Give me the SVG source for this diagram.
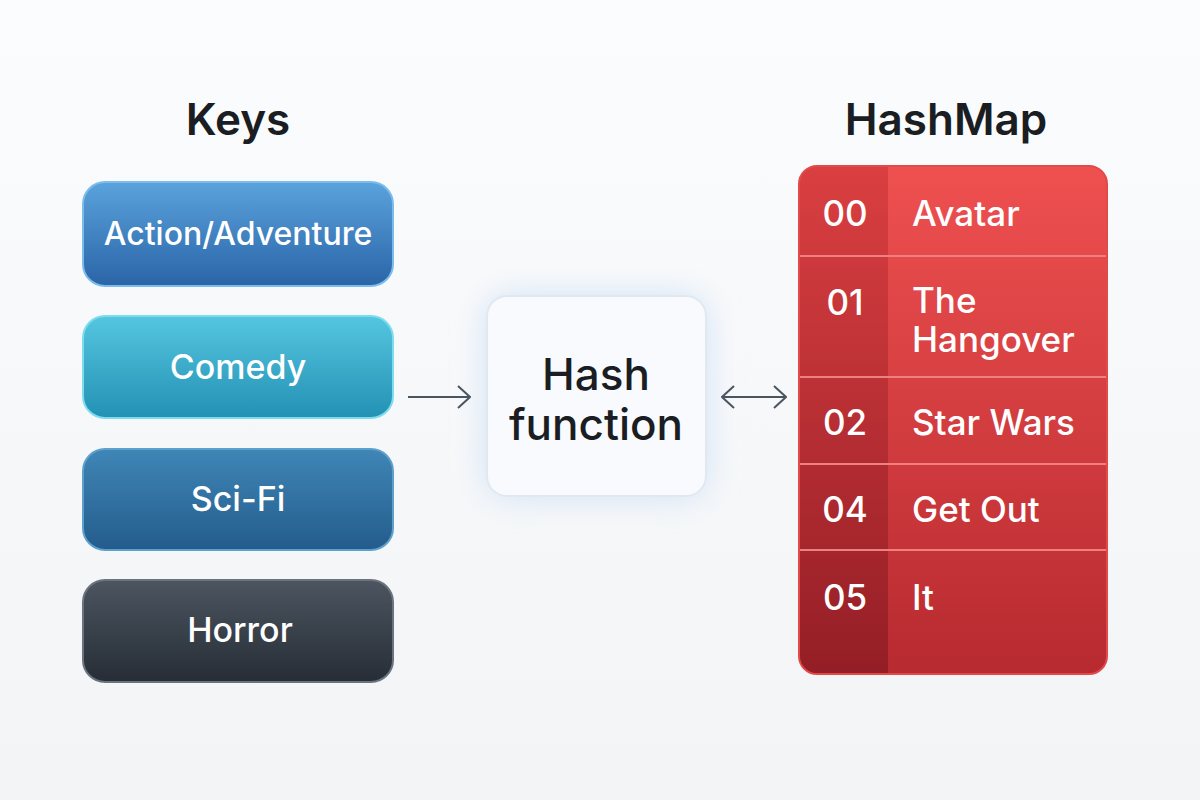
<svg xmlns="http://www.w3.org/2000/svg" width="1200" height="800" viewBox="0 0 1200 800">
<defs>
<linearGradient id="bg" x1="0" y1="0" x2="0" y2="1"><stop offset="0" stop-color="#fbfcfd"/><stop offset="1" stop-color="#f2f4f6"/></linearGradient>
<linearGradient id="g1" x1="0" y1="0" x2="0" y2="1"><stop offset="0" stop-color="#5aa3dc"/><stop offset="1" stop-color="#2a64a8"/></linearGradient>
<linearGradient id="g2" x1="0" y1="0" x2="0" y2="1"><stop offset="0" stop-color="#55c6e0"/><stop offset="1" stop-color="#2391b4"/></linearGradient>
<linearGradient id="g3" x1="0" y1="0" x2="0" y2="1"><stop offset="0" stop-color="#3f86b6"/><stop offset="1" stop-color="#235c8c"/></linearGradient>
<linearGradient id="g4" x1="0" y1="0" x2="0" y2="1"><stop offset="0" stop-color="#4c5560"/><stop offset="1" stop-color="#262d36"/></linearGradient>
<linearGradient id="gr" x1="0" y1="0" x2="0" y2="1"><stop offset="0" stop-color="#ef5050"/><stop offset="1" stop-color="#b72a30"/></linearGradient>
<linearGradient id="gi" x1="0" y1="0" x2="0" y2="1"><stop offset="0" stop-color="#d63c3e"/><stop offset="1" stop-color="#8e1c24"/></linearGradient>
<filter id="glow" x="-50%" y="-50%" width="200%" height="200%"><feGaussianBlur stdDeviation="16"/></filter>
<marker id="ah" viewBox="0 0 14 24" refX="13" refY="12" markerWidth="14" markerHeight="24" markerUnits="userSpaceOnUse" orient="auto-start-reverse"><path d="M1,1 L13,12 L1,23" fill="none" stroke="#4a5560" stroke-width="2"/></marker>
<style>
text{font-family:Inter,"Liberation Sans",sans-serif;}
.title{font-size:44px;font-weight:600;fill:#1a1d22;text-anchor:middle}
.key{font-size:32px;fill:#fff;text-anchor:middle;font-weight:500}
.cell{font-size:35px;fill:#fff;font-weight:500}
.sep{stroke:#f08080;stroke-width:2}
</style>
</defs>
<rect width="1200" height="800" fill="url(#bg)"/>
<text class="title" x="238" y="135">Keys</text>
<text class="title" x="946" y="135">HashMap</text>
<g id="key-action"><rect x="83" y="182" width="310" height="104" rx="22" fill="url(#g1)" stroke="#7bbcec" stroke-width="2"/><text class="key" x="238" y="245" font-size="31">Action/Adventure</text></g>
<g id="key-comedy"><rect x="83" y="316" width="310" height="102" rx="22" fill="url(#g2)" stroke="#7ddcee" stroke-width="2"/><text class="key" x="238" y="379" style="font-size:34px">Comedy</text></g>
<g id="key-scifi"><rect x="83" y="449" width="310" height="101" rx="22" fill="url(#g3)" stroke="#5ea0cc" stroke-width="2"/><text class="key" x="238" y="511" style="font-size:34px">Sci-Fi</text></g>
<g id="key-horror"><rect x="83" y="580" width="310" height="102" rx="22" fill="url(#g4)" stroke="#6a737e" stroke-width="2"/><text class="key" x="240" y="642" style="font-size:34px">Horror</text></g>
<g id="hash">
<rect x="487" y="296" width="219" height="200" rx="22" fill="#cfe0f6" filter="url(#glow)"/>
<rect x="487" y="296" width="219" height="200" rx="20" fill="#f8fafd" stroke="#e2e8f0" stroke-width="2"/>
<text x="596" y="390" font-size="44" font-weight="500" fill="#1a1d22" text-anchor="middle">Hash</text>
<text x="596" y="440" font-size="44" font-weight="500" fill="#1a1d22" text-anchor="middle">function</text>
</g>
<g id="hashmap">
<rect x="799" y="166" width="308" height="508" rx="18" fill="url(#gr)" stroke="#e24a4a" stroke-width="2"/>
<path d="M817,167 H888 V673 H817 A17,17 0 0 1 800,656 V184 A17,17 0 0 1 817,167Z" fill="url(#gi)" opacity="0.85"/>
<line class="sep" x1="800" y1="256" x2="1106" y2="256"/>
<line class="sep" x1="800" y1="377" x2="1106" y2="377"/>
<line class="sep" x1="800" y1="464" x2="1106" y2="464"/>
<line class="sep" x1="800" y1="550" x2="1106" y2="550"/>
<text class="cell" x="845" y="226" text-anchor="middle">00</text><text class="cell" x="912" y="226">Avatar</text>
<text class="cell" x="845" y="315" text-anchor="middle">01</text><text class="cell" x="912" y="313">The</text><text class="cell" x="912" y="352">Hangover</text>
<text class="cell" x="845" y="435" text-anchor="middle">02</text><text class="cell" x="912" y="435">Star Wars</text>
<text class="cell" x="845" y="522" text-anchor="middle">04</text><text class="cell" x="912" y="522">Get Out</text>
<text class="cell" x="845" y="610" text-anchor="middle">05</text><text class="cell" x="912" y="610">It</text>
</g>
<g id="connectors" stroke="#4a5560" stroke-width="2" fill="none">
<line x1="408" y1="397" x2="470" y2="397" marker-end="url(#ah)"/>
<line x1="722" y1="397" x2="786" y2="397" marker-start="url(#ah)" marker-end="url(#ah)"/>
</g>
</svg>
